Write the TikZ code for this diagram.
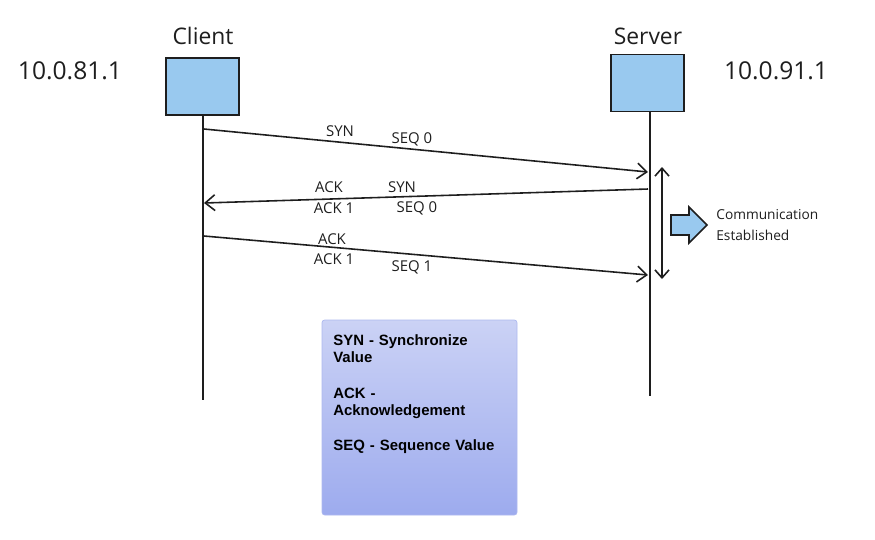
\documentclass[tikz,border=0pt]{standalone}
\usepackage{fontspec}
\setmainfont{Open Sans}
\newfontfamily\legendfont{Liberation Sans}
\usetikzlibrary{arrows.meta}
\definecolor{boxblue}{HTML}{99C9EF}
\definecolor{lineclr}{HTML}{1E1E1E}
\definecolor{legtop}{HTML}{CBD2F5}
\definecolor{legbot}{HTML}{9DABEE}
\definecolor{legborder}{HTML}{AEB9EF}
\begin{document}
\begin{tikzpicture}[x=0.02cm,y=-0.02cm,
  hostbox/.style={draw=lineclr,line width=1pt,fill=boxblue,minimum width=73*0.02cm,minimum height=57*0.02cm,inner sep=0pt},
  hostlabel/.style={font=\fontsize{13}{15}\selectfont,text=lineclr,inner sep=0pt},
  iplabel/.style={font=\fontsize{14}{16}\selectfont,text=lineclr,inner sep=0pt},
  msglabel/.style={font=\fontsize{8.5}{10}\selectfont,text=lineclr,inner sep=0pt},
  lifeline/.style={draw=lineclr,line width=0.9pt},
  msg/.style={draw=lineclr,line width=0.9pt,-{Straight Barb[length=5.5pt,width=9pt]}},
  legend/.style={draw=legborder,rounded corners=1.5pt,top color=legtop,bottom color=legbot,minimum width=195*0.02cm,minimum height=195*0.02cm,inner sep=0pt}
]
\useasboundingbox (0,0) rectangle (875,539);

% hosts
\node[hostbox] (client) at (202.5,86.5) {};
\node[hostbox] (server) at (647.5,83) {};
\node[hostlabel] (clientlbl) at (203,36) {Client};
\node[hostlabel] (serverlbl) at (648,36) {Server};
\node[iplabel] (clientip) at (70,71) {10.0.81.1};
\node[iplabel] (serverip) at (776,71) {10.0.91.1};

% lifelines
\coordinate (ctop) at (203,115);
\coordinate (cend) at (203,400);
\coordinate (stop) at (650,111);
\coordinate (send) at (650,396);
\draw[lifeline] (ctop) -- (cend);
\draw[lifeline] (stop) -- (send);

% message endpoints
\coordinate (m1s) at (204,129);
\coordinate (m1e) at (648,172);
\coordinate (m2s) at (648,189);
\coordinate (m2e) at (204,203);
\coordinate (m3s) at (204,236);
\coordinate (m3e) at (648,275);

\draw[msg] (m1s) -- (m1e);
\draw[msg] (m2s) -- (m2e);
\draw[msg] (m3s) -- (m3e);

% message labels
\node[msglabel] (l1a) at (340,131) {SYN};
\node[msglabel] (l1b) at (412,139) {SEQ 0};
\node[msglabel] (l2a) at (329,187) {ACK};
\node[msglabel] (l2b) at (402,187) {SYN};
\node[msglabel] (l2c) at (334,208) {ACK 1};
\node[msglabel] (l2d) at (417,208) {SEQ 0};
\node[msglabel] (l3a) at (332,239) {ACK};
\node[msglabel] (l3b) at (334,259) {ACK 1};
\node[msglabel] (l3c) at (412,267) {SEQ 1};

% established span
\coordinate (spantop) at (662,167);
\coordinate (spanbot) at (662,279);
\draw[draw=lineclr,line width=0.9pt,{Straight Barb[length=4.5pt,width=8pt]}-{Straight Barb[length=4.5pt,width=8pt]}] (spantop) -- (spanbot);

% block arrow
\draw[draw=lineclr,line width=0.9pt,fill=boxblue,line join=miter]
  (671,215) -- (689,215) -- (689,207) -- (707,225) -- (689,243) -- (689,235) -- (671,235) -- cycle;

\node[msglabel,anchor=west,align=left,font=\fontsize{7.8}{11.5}\selectfont] (estab) at (716,225) {Communication\\Established};

% legend
\node[legend] (leg) at (419.5,417.5) {};
\node[anchor=north west,inner sep=0pt,align=left,text width=180*0.02cm,
      font=\legendfont\bfseries\fontsize{8.5}{9.8}\selectfont,text=black] (legtext) at (333,334)
  {SYN - Synchronize\\Value\\[10.5pt]ACK -\\Acknowledgement\\[10.5pt]SEQ - Sequence Value};
\end{tikzpicture}
\end{document}
